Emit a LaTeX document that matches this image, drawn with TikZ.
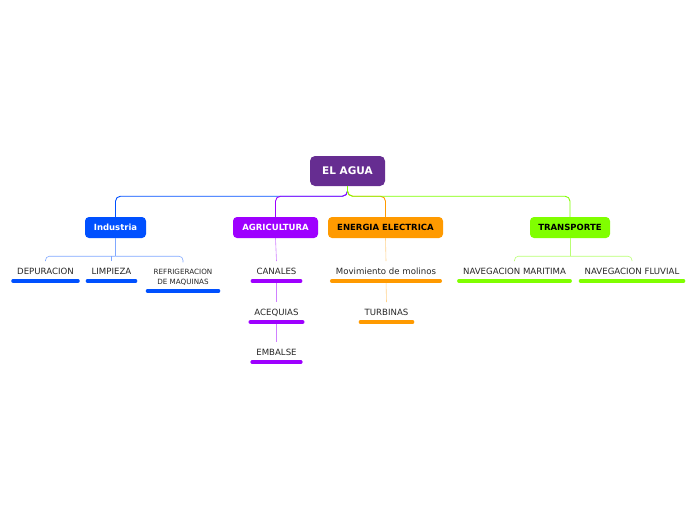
\documentclass[tikz,border=0pt]{standalone}
\usepackage{fontspec}
\setmainfont{DejaVu Sans}
\usepackage{tikz}
\usetikzlibrary{calc}
\definecolor{raiz}{HTML}{662D91}
\definecolor{industria}{HTML}{0050FF}
\definecolor{agri}{HTML}{9E00FF}
\definecolor{energia}{HTML}{FF9A00}
\definecolor{transp}{HTML}{80FF00}

\begin{document}
\begin{tikzpicture}[x=1pt,y=-1pt,
		tema/.style={rounded corners=4pt, minimum height=21pt, inner xsep=6pt, font=\fontsize{8.5}{9}\selectfont\bfseries},
		hoja/.style={anchor=south, inner xsep=4pt, inner ysep=6.5pt, text depth=0pt, font=\fontsize{8.6}{10}\selectfont, text=black!85},
		rama/.style={line width=0.9pt, rounded corners=5pt},
		sub/.style={line width=0.6pt, rounded corners=4pt},
		barra/.style={line width=3.5pt, line cap=round}]
		\useasboundingbox (0,0) rectangle (696,520);
		%\node[tema] (agua) at (347.5,171) {EL AGUA};
		\node[tema, fill=raiz, text=white, minimum width=75pt, minimum height=30pt, rounded corners=5pt, font=\fontsize{10.5}{12}\selectfont\bfseries] (agua) at (347.5,171) {EL AGUA};
		\node[tema, fill=industria, text=white, minimum width=61pt] (ind) at (115.5,227.5) {Industria};
		\node[tema, fill=agri, text=white, minimum width=85pt] (agr) at (275.5,227.5) {AGRICULTURA};
		\node[tema, fill=energia, text=black, minimum width=115pt] (ene) at (385.5,227.5) {ENERGIA ELECTRICA};
		\node[tema, fill=transp, text=black, minimum width=80pt] (tra) at (570,227.5) {TRANSPORTE};
		
		\node[hoja] (dep) at (45.5,281) {DEPURACION};
		\node[hoja] (lim) at (111.5,281) {LIMPIEZA};
		\node[hoja, align=center, inner xsep=6pt, font=\fontsize{7.2}{10}\selectfont] (ref) at (183,291) {REFRIGERACION\\DE MAQUINAS};
		\node[hoja] (can) at (276.5,281) {CANALES};
		\node[hoja] (ace) at (276.5,322) {ACEQUIAS};
		\node[hoja] (emb) at (276.5,362) {EMBALSE};
		\node[hoja] (mov) at (386,281) {Movimiento de molinos};
		\node[hoja] (tur) at (386.5,322) {TURBINAS};
		\node[hoja] (mar) at (514.5,281) {NAVEGACION MARITIMA};
		\node[hoja] (flu) at (632,281) {NAVEGACION FLUVIAL};
		
		\draw[rama,industria] (agua.south) -- ++(0,10) -| (ind.north);
		\draw[rama,agri] (agua.south) -- ++(0,10) -| (agr.north);
		\draw[rama,energia] (agua.south) -- ++(0,10) -| (ene.north);
		\draw[rama,transp] (agua.south) -- ++(0,10) -| (tra.north);
		
		\draw[sub,industria!50] (ind.south) -- ++(0,18) coordinate (indb);
		\draw[sub,industria!50] (indb) -| (dep.north);
		\draw[sub,industria!50] (indb) -| (ref.north);
		\draw[sub,industria!50] (indb -| lim.north) -- (lim.north);
		\draw[sub,agri!50] (agr.south) -- (can.north);
		\draw[sub,agri!50] (can.south) -- (ace.north);
		\draw[sub,agri!50] (ace.south) -- (emb.north);
		\draw[sub,energia!45] (ene.south) -- (mov.north);
		\draw[sub,energia!45] (mov.south) -- (tur.north);
		\draw[sub,transp!55] (tra.south) -- ++(0,18) coordinate (trab);
		\draw[sub,transp!55] (trab) -| (mar.north);
		\draw[sub,transp!55] (trab) -| (flu.north);
		
		\foreach \n/\c in {dep/industria,lim/industria,ref/industria,can/agri,ace/agri,emb/agri,mov/energia,tur/energia,mar/transp,flu/transp}
			\draw[barra,\c] (\n.south west) -- (\n.south east);
\end{tikzpicture}
\end{document}
